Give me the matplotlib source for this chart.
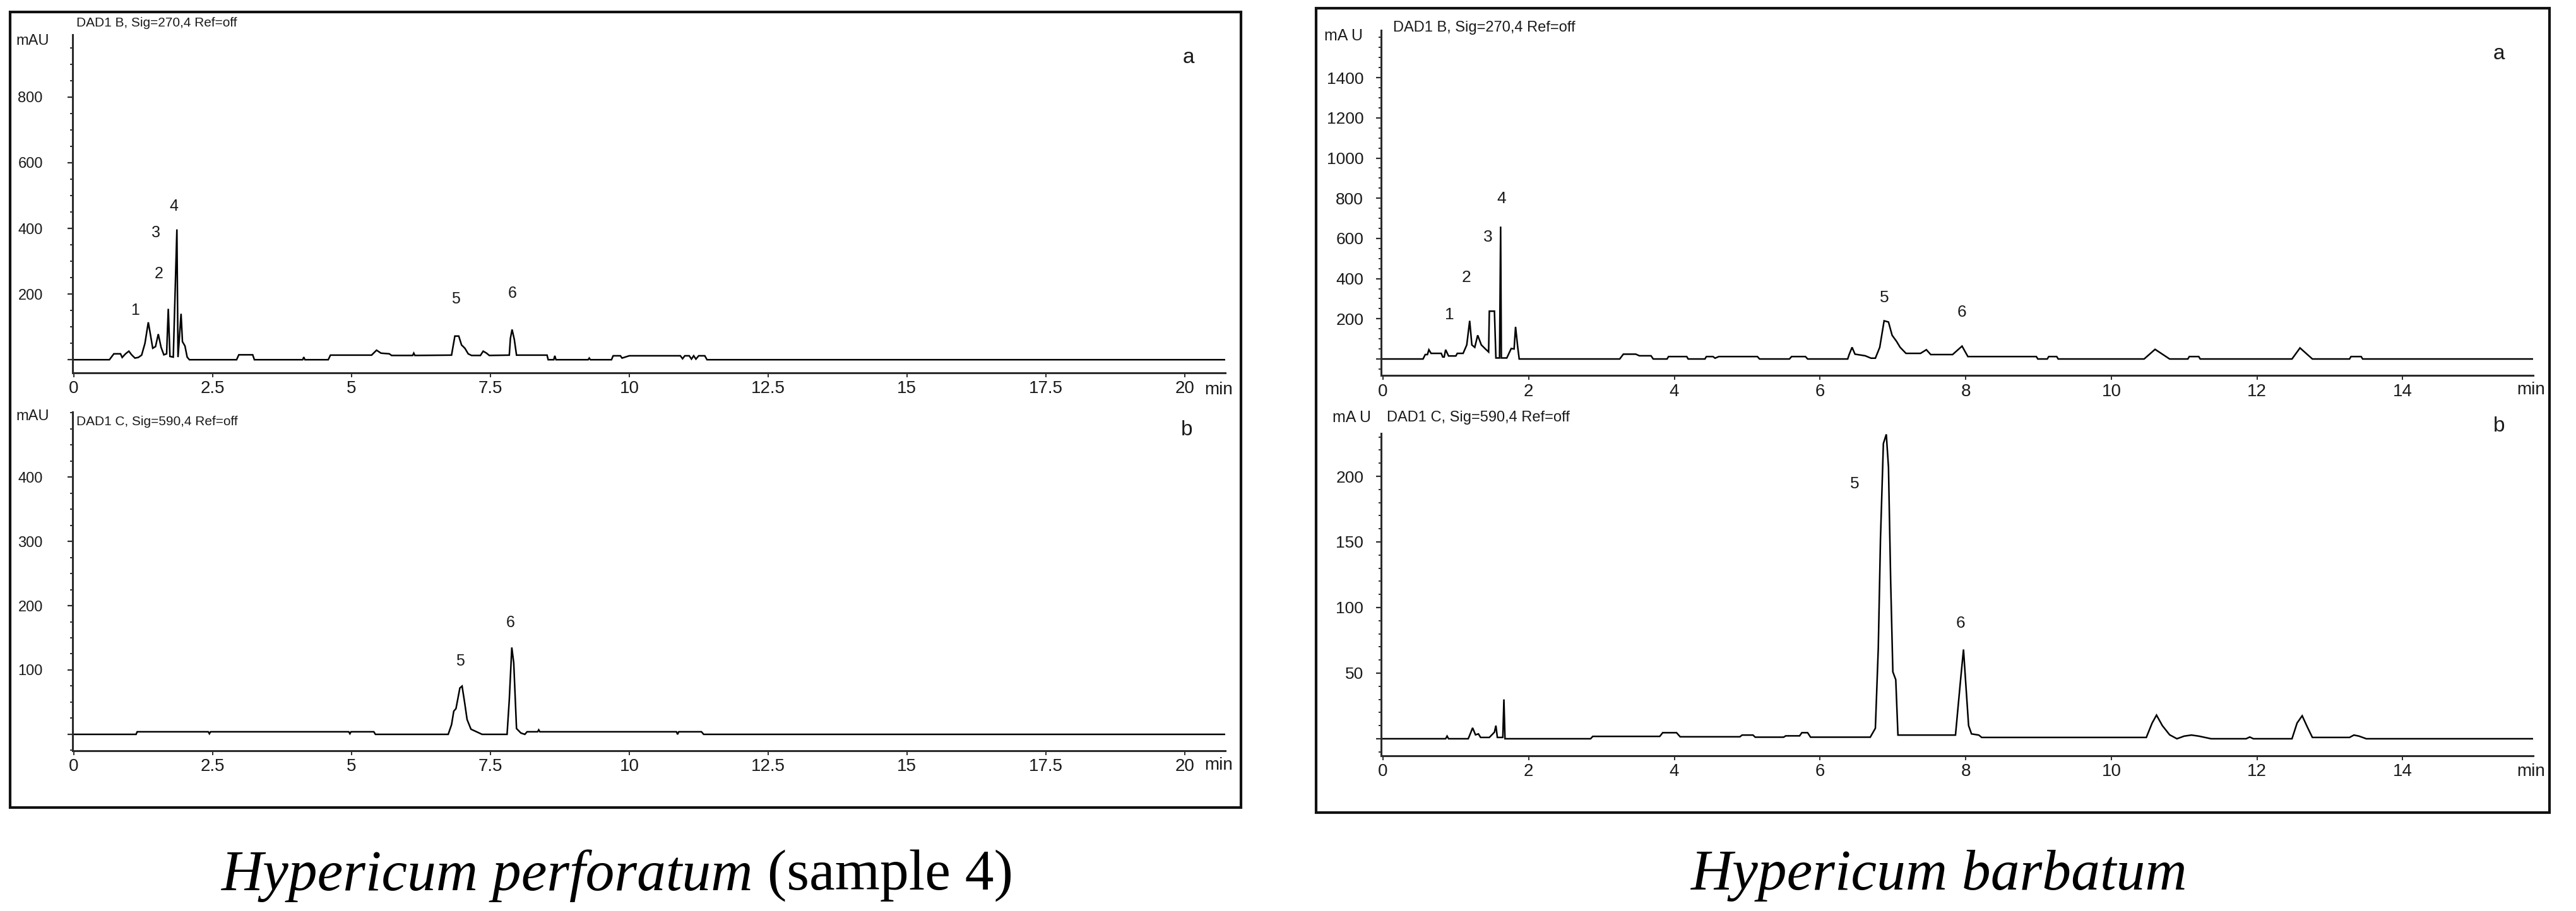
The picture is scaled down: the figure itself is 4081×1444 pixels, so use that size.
import matplotlib
matplotlib.use("Agg")
import matplotlib.pyplot as plt
from matplotlib import font_manager
from matplotlib.patches import Rectangle
from matplotlib.ticker import MultipleLocator

# ---- data (time in min, signal in mAU) ----
perf_270_t = [0.00, 0.64, 0.72, 0.84, 0.87, 0.93, 0.99, 1.04, 1.10, 1.16, 1.22, 1.28, 1.34, 1.37,
              1.42, 1.47, 1.52, 1.57, 1.62, 1.67, 1.70, 1.73, 1.79, 1.855, 1.875, 1.93, 1.955, 2.00,
              2.04, 2.08, 2.93, 2.97, 3.22, 3.25, 4.12, 4.14, 4.16, 4.58, 4.62, 5.36, 5.45, 5.53,
              5.68, 5.72, 6.10, 6.12, 6.14, 6.80, 6.86, 6.93, 6.98, 7.04, 7.10, 7.16, 7.32, 7.37,
              7.43, 7.48, 7.84, 7.86, 7.89, 7.93, 7.97, 8.52, 8.54, 8.64, 8.66, 8.68, 9.26, 9.28,
              9.30, 9.68, 9.71, 9.84, 9.87, 10.00, 10.92, 10.96, 11.00, 11.08, 11.12, 11.16, 11.20,
              11.25, 11.36, 11.40, 20.73]
perf_270_v = [0, 0, 18, 18, 7, 18, 26, 15, 5, 7, 14, 50, 114, 85,
              35, 40, 78, 38, 15, 18, 155, 10, 8, 397, 8, 140, 55, 42,
              8, 0, 0, 15, 15, 0, 0, 8, 0, 0, 14, 14, 29, 20,
              18, 13, 13, 20, 13, 14, 72, 72, 45, 35, 18, 13, 13, 26,
              20, 13, 14, 65, 92, 62, 14, 14, 0, 0, 12, 0, 0, 5,
              0, 0, 12, 12, 5, 12, 12, 3, 12, 12, 2, 12, 2,
              12, 12, 0, 0]

perf_590_t = [0.00, 1.12, 1.14, 2.42, 2.44, 2.46, 4.95, 4.97, 4.99, 5.40, 5.43, 6.74, 6.80, 6.84,
              6.88, 6.95, 6.99, 7.04, 7.08, 7.15, 7.25, 7.35, 7.80, 7.84, 7.885, 7.92, 7.97, 8.05,
              8.12, 8.16, 8.35, 8.37, 8.39, 10.85, 10.87, 10.89, 11.30, 11.34, 20.73]
perf_590_v = [0, 0, 4, 4, 1, 4, 4, 1, 4, 4, 0, 0, 15, 36,
              40, 72, 75, 47, 23, 8, 4, 0, 0, 54, 135, 111, 9, 2,
              0, 4, 4, 7, 4, 4, 0, 4, 4, 0, 0]

barb_270_t = [0.00, 0.55, 0.58, 0.61, 0.63, 0.66, 0.80, 0.82, 0.84, 0.86, 0.90, 1.00, 1.02, 1.10,
              1.15, 1.19, 1.22, 1.26, 1.30, 1.35, 1.40, 1.45, 1.46, 1.53, 1.55, 1.60, 1.615, 1.625,
              1.70, 1.76, 1.80, 1.82, 1.85, 1.87, 3.25, 3.30, 3.47, 3.52, 3.68, 3.71, 3.90, 3.92,
              4.17, 4.19, 4.42, 4.44, 4.53, 4.56, 4.61, 5.14, 5.17, 5.58, 5.61, 5.80, 5.83, 6.38,
              6.40, 6.44, 6.48, 6.62, 6.70, 6.76, 6.82, 6.88, 6.94, 6.99, 7.05, 7.10, 7.18, 7.38,
              7.46, 7.52, 7.82, 7.95, 8.03, 8.97, 8.99, 9.12, 9.14, 9.25, 9.27, 10.45, 10.60, 10.80,
              11.05, 11.07, 11.20, 11.22, 12.48, 12.59, 12.76, 13.27, 13.29, 13.43, 13.45, 15.79]
barb_270_v = [0, 0, 22, 22, 46, 28, 28, 10, 10, 46, 15, 15, 28, 28,
              70, 190, 70, 58, 118, 70, 52, 35, 238, 238, 5, 5, 659, 5,
              5, 52, 50, 160, 58, 0, 0, 24, 24, 16, 16, 0, 0, 12,
              12, 0, 0, 12, 12, 4, 12, 12, 0, 0, 12, 12, 0, 0,
              22, 58, 24, 16, 4, 4, 58, 190, 184, 118, 88, 58, 28, 28,
              46, 22, 22, 64, 12, 12, 0, 0, 12, 12, 0, 0, 48, 0,
              0, 12, 12, 0, 0, 55, 0, 0, 12, 12, 0, 0]

barb_590_t = [0.00, 0.86, 0.88, 0.90, 1.17, 1.20, 1.23, 1.27, 1.31, 1.34, 1.46, 1.53, 1.55, 1.57,
              1.645, 1.66, 1.675, 2.85, 2.88, 3.80, 3.84, 4.03, 4.08, 4.90, 4.93, 5.08, 5.11, 5.50,
              5.53, 5.72, 5.75, 5.83, 5.87, 6.69, 6.76, 6.80, 6.83, 6.87, 6.91, 6.94, 6.97, 7.00,
              7.04, 7.07, 7.86, 7.89, 7.93, 7.97, 8.00, 8.04, 8.08, 8.18, 8.22, 10.48, 10.56, 10.62,
              10.70, 10.80, 10.90, 11.00, 11.10, 11.20, 11.37, 11.85, 11.90, 11.95, 12.48, 12.55,
              12.62, 12.69, 12.76, 13.27, 13.33, 13.40, 13.50, 15.79]
barb_590_v = [0, 0, 2, 0, 0, 4, 8.3, 3, 3.7, 1, 1, 5, 10, 1,
              1, 30, 0, 0, 1.8, 1.8, 4.6, 4.6, 1.5, 1.5, 2.8, 2.8, 1.2, 1.2,
              2.2, 2.2, 4.6, 4.6, 1.2, 1.2, 8, 69, 152, 225, 232, 207, 120, 51,
              45, 2.8, 2.8, 21, 45, 68, 43, 10, 3.7, 2.8, 1, 1, 12, 18,
              10, 3, 0, 2, 2.8, 2, 0, 0, 1.3, 0, 0, 12,
              17.5, 9, 1, 1, 2.8, 2, 0, 0]

# peak numbers: (label, time, height of label centre)
perf_270_peaks = [("1", 1.10, 151), ("2", 1.53, 261), ("3", 1.48, 386), ("4", 1.80, 467),
                  ("5", 6.87, 184), ("6", 7.89, 202)]
perf_590_peaks = [("5", 6.95, 114), ("6", 7.86, 174)]
barb_270_peaks = [("1", 0.91, 220), ("2", 1.14, 406), ("3", 1.44, 605), ("4", 1.63, 797),
                  ("5", 6.88, 304), ("6", 7.95, 232)]
barb_590_peaks = [("5", 6.48, 194), ("6", 7.93, 88)]

# axis ticks (labelled major ticks; 0 is marked but not labelled)
perf_270_yticks = [0, 200, 400, 600, 800]
perf_590_yticks = [0, 100, 200, 300, 400]
barb_270_yticks = [0, 200, 400, 600, 800, 1000, 1200, 1400]
barb_590_yticks = [0, 50, 100, 150, 200]
perf_xticks = [0, 2.5, 5, 7.5, 10, 12.5, 15, 17.5, 20]
perf_xlabels = ["0", "2.5", "5", "7.5", "10", "12.5", "15", "17.5", "20"]
barb_xticks = [0, 2, 4, 6, 8, 10, 12, 14]
barb_xlabels = ["0", "2", "4", "6", "8", "10", "12", "14"]

# ---- layout ----------------------------------------------------------------
W, H = 4081, 1444
names = {f.name for f in font_manager.fontManager.ttflist}
NARROW = "Liberation Sans Narrow" if "Liberation Sans Narrow" in names else "Liberation Sans"
SERIF = "Liberation Serif"
INK = "#1a1a1a"

fig = plt.figure(figsize=(W / 100, H / 100), dpi=100)
fig.patch.set_facecolor("white")


def fx(px):
    return px / W


def fy(py):
    return 1 - py / H


def panel(x0, y0, x1, y1, xlim, ylim, t, v, yticks, minor, ylabsize, ypad,
          xticks, xlabels, peaks, pksize):
    ax = fig.add_axes([fx(x0), fy(y1), fx(x1) - fx(x0), (y1 - y0) / H])
    ax.plot(t, v, color="black", lw=1.8, solid_joinstyle="miter")
    ax.set_xlim(*xlim)
    ax.set_ylim(*ylim)
    for s in ("top", "right"):
        ax.spines[s].set_visible(False)
    for s in ("left", "bottom"):
        ax.spines[s].set_color("#2b2b2b")
        ax.spines[s].set_linewidth(2.2)
    ax.set_yticks(yticks)
    ax.set_yticklabels([""] + [str(y) for y in yticks[1:]])
    ax.yaxis.set_minor_locator(MultipleLocator(minor))
    ax.set_xticks(xticks)
    ax.set_xticklabels(xlabels)
    ax.tick_params(axis="y", which="major", length=6, width=1.6, color="#2b2b2b",
                   labelsize=ylabsize, labelcolor=INK, pad=ypad)
    ax.tick_params(axis="y", which="minor", length=3, width=1.4, color="#2b2b2b")
    ax.tick_params(axis="x", which="major", length=5, width=1.4, color="#2b2b2b",
                   labelsize=20, labelcolor=INK, pad=4)
    for lab in ax.get_xticklabels() + ax.get_yticklabels():
        lab.set_family(NARROW)
    for s, tx, ty in peaks:
        ax.text(tx, ty, s, ha="center", va="center", fontsize=pksize, color=INK, family=NARROW)
    ax.patch.set_alpha(0)
    return ax


# outer frames
for x0, y0, x1, y1 in [(16, 19, 1966, 1280), (2085, 13, 4039, 1288)]:
    fig.patches.append(Rectangle((fx(x0), fy(y1)), fx(x1) - fx(x0), (y1 - y0) / H,
                                 transform=fig.transFigure, fill=False,
                                 edgecolor="#111111", lw=3))

panel(115, 55, 1941, 591, (-0.023, 20.73), (-40, 990), perf_270_t, perf_270_v,
      perf_270_yticks, 50, 17, 28, perf_xticks, perf_xlabels, perf_270_peaks, 18)
panel(115, 653, 1941, 1190, (-0.023, 20.73), (-25.5, 501), perf_590_t, perf_590_v,
      perf_590_yticks, 25, 17, 28, perf_xticks, perf_xlabels, perf_590_peaks, 18)
panel(2188, 48, 4013, 595, (-0.026, 15.79), (-81.6, 1636), barb_270_t, barb_270_v,
      barb_270_yticks, 50, 19, 14, barb_xticks, barb_xlabels, barb_270_peaks, 19)
panel(2188, 687, 4013, 1198, (-0.026, 15.79), (-13, 232.7), barb_590_t, barb_590_v,
      barb_590_yticks, 10, 19, 14, barb_xticks, barb_xlabels, barb_590_peaks, 19)


def ftext(px, py, s, size, ha="left", **kw):
    fig.text(fx(px), fy(py), s, ha=ha, va="center", fontsize=size, color=INK, family=NARROW, **kw)


# signal headers, axis unit labels, panel letters
ftext(121, 36, "DAD1 B, Sig=270,4 Ref=off", 15)
ftext(121, 668, "DAD1 C, Sig=590,4 Ref=off", 15)
ftext(2207, 44, "DAD1 B, Sig=270,4 Ref=off", 17)
ftext(2197, 662, "DAD1 C, Sig=590,4 Ref=off", 17)
ftext(25, 65, "mAU", 17)
ftext(25, 660, "mAU", 17)
ftext(2098, 57, "mA U", 18)
ftext(2111, 662, "mA U", 18)
ftext(1931, 618, "min", 20, ha="center")
ftext(1931, 1213, "min", 20, ha="center")
ftext(4010, 618, "min", 20, ha="center")
ftext(4010, 1223, "min", 20, ha="center")
ftext(1883, 92, "a", 24, ha="center")
ftext(1880, 681, "b", 24, ha="center")
ftext(3959, 86, "a", 24, ha="center")
ftext(3959, 676, "b", 24, ha="center")

# captions
cap = fig.text(fx(351), fy(1388), "Hypericum perforatum", ha="left", va="center",
               fontsize=66, family=SERIF, style="italic", color="black")
plt.annotate(" (sample 4)", xy=(1, 0.5), xycoords=cap, ha="left", va="center",
             fontsize=66, family=SERIF, color="black")
fig.text(fx(3072), fy(1388), "Hypericum barbatum", ha="center", va="center",
         fontsize=66, family=SERIF, style="italic", color="black")

fig.savefig("out.png", dpi=100, facecolor="white")
